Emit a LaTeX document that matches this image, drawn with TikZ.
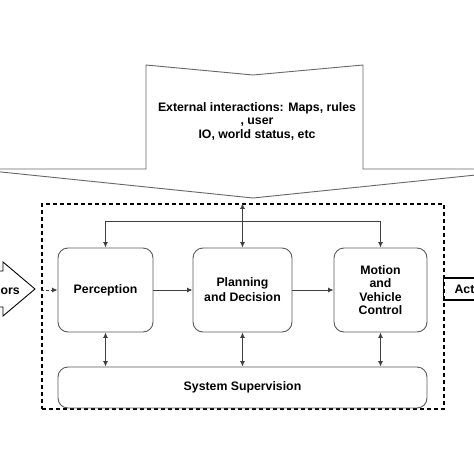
\documentclass[tikz,border=0pt]{standalone}
\usepackage{fontspec}
\setmainfont{Liberation Sans}
\usetikzlibrary{calc,arrows.meta}

\tikzset{
  blk/.style={draw=black!65, line width=0.9pt, rounded corners=10pt, align=center,
    inner sep=0pt, font=\bfseries\fontsize{12.3}{13.5}\selectfont},
  link/.style={draw=black!75, line width=0.9pt, {Latex[length=5.5pt,width=5pt]}-{Latex[length=5.5pt,width=5pt]}},
  onelink/.style={draw=black!75, line width=0.9pt, -{Latex[length=5.5pt,width=5pt]}}
}

\begin{document}
\begin{tikzpicture}[x=1pt,y=-1pt]
\useasboundingbox (0,0) rectangle (474,474);
\clip (0,0) rectangle (474,474);

% external interactions arrow
\draw[draw=black!60, line width=0.9pt, fill=white] (146,65) -- (253,75) -- (363,65) -- (363,169)
  -- (534,169) -- (253,198) -- (-28,169) -- (146,169) -- cycle;
\node (ext) [align=center, font=\bfseries\fontsize{12.3}{13.5}\selectfont] at (257,121)
  {External interactions: Maps, rules\\, user\\IO, world status, etc};

% the system
\node (outer) [draw, line width=1.1pt, dash pattern=on 4pt off 3pt, minimum width=402, minimum height=205] at (243,306.5) {};
\node (perc) [blk, minimum width=95, minimum height=84] at (105.5,290) {Perception};
\node (plan) [blk, minimum width=99, minimum height=84, font=\bfseries\fontsize{12.3}{15}\selectfont] at (242.5,290) {Planning\\and Decision};
\node (motion) [blk, minimum width=93, minimum height=84] at (380.5,290) {Motion\\and\\Vehicle\\Control};
\node (super) [blk, minimum width=369, minimum height=41] at (242.5,387.5) {System Supervision};

\draw[onelink] (perc) -- (plan);
\draw[onelink] (plan) -- (motion);
\draw[link] (perc.north) -- ++(0,-26) -| (motion.north);
\draw[link] (outer.north -| plan.north) -- (plan.north);
\foreach \n in {perc,plan,motion}
  \draw[link] (\n.south) -- (\n.south |- super.north);

% sensors and actuators
\draw[line width=0.9pt, fill=white] (-10,271) -- (3,271) -- (3,262) -- (35,289) coordinate (sens)
  -- (3,316) -- (3,307) -- (-10,307) -- cycle;
\node (sensors) [anchor=east, inner sep=0pt, font=\bfseries\fontsize{12.3}{13.5}\selectfont] at (20,290) {Sensors};
\draw[onelink, dash pattern=on 3pt off 2pt] (outer.west |- perc) -- (perc.west);
\node (act) [draw, line width=1.1pt, anchor=west, minimum height=22, inner xsep=11pt, inner ysep=0pt,
  font=\bfseries\fontsize{12.3}{13.5}\selectfont] at (443,289) {Actuators};
\end{tikzpicture}
\end{document}
